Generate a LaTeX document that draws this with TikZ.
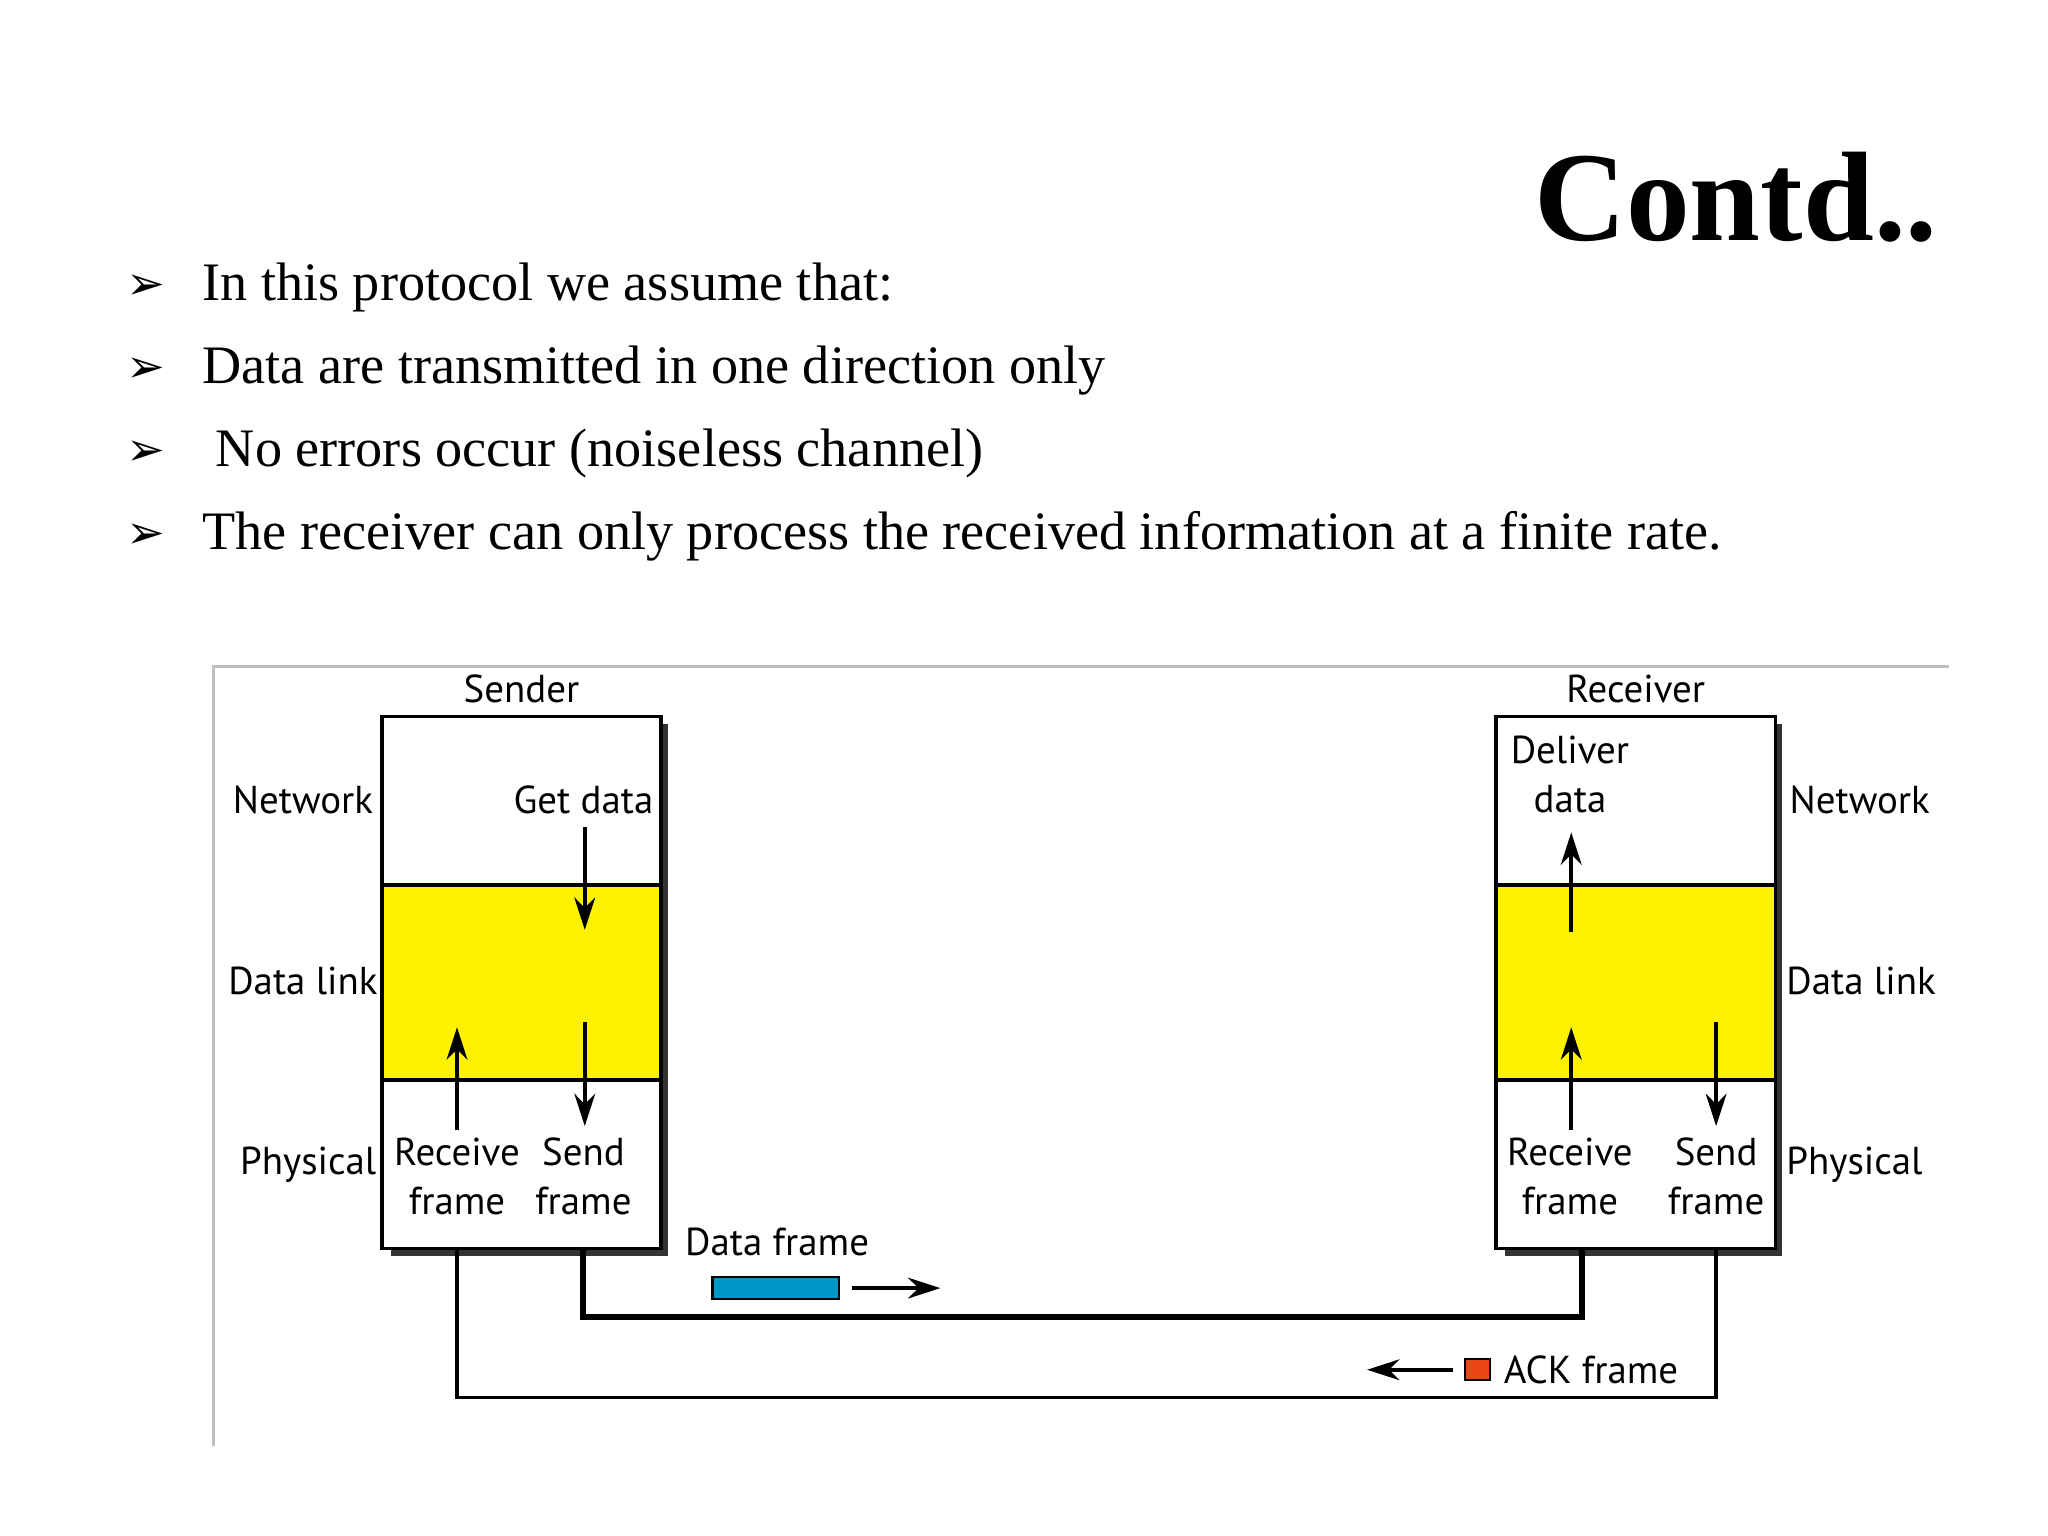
\documentclass[tikz,border=0pt]{standalone}
\usepackage{fontspec}
\setmainfont{Liberation Serif}
\newfontfamily\dfont{PT Sans}
\newfontfamily\symfont{DejaVu Sans}
\usetikzlibrary{arrows.meta,positioning}
\begin{document}
\begin{tikzpicture}[x=0.01cm,y=-0.01cm,
  lbl/.style={font=\dfont\fontsize{8.4}{10.5}\selectfont,inner sep=0pt,align=center},
  bul/.style={anchor=west,inner sep=0pt,font=\fontsize{11.7}{13}\selectfont},
  arr/.style={-{Stealth[length=7pt,width=4.5pt]},line width=0.8pt},
  layer/.style={draw=black,line width=0.8pt},
  shadow/.style={fill=black!80,draw=none}]
\useasboundingbox (0,0) rectangle (1555,1166);
\node[anchor=east,inner sep=0pt,font=\bfseries\fontsize{27.5}{30}\selectfont] (title) at (1472,150) {Contd..};
\foreach \y/\t/\n in {218/{In this protocol we assume that:}/b1,281/{Data are transmitted in one direction only}/b2,344/{\ No errors occur (noiseless channel)}/b3,407/{The receiver can only process the received information at a finite rate.}/b4}{
  \node[anchor=center,inner sep=0pt,font=\symfont\fontsize{10}{12}\selectfont] (m\n) at (111,\y) {➢};
  \node[bul] (\n) at (153,\y) {\t};
}
% frame
\draw[black!25,line width=0.8pt] (1480,506) -- (162,506) -- (162,1098);
% boxes
\foreach \x/\nm in {290/S,1136/R}{
  \fill[shadow] (\x+7,550) rectangle (\x+217,954);
  \fill[white] (\x,544) rectangle (\x+212,672);
  \fill[yellow] (\x,672) rectangle (\x+212,820);
  \fill[white] (\x,820) rectangle (\x+212,948);
  \draw[layer] (\x,544) rectangle (\x+212,948);
  \draw[layer] (\x,672) -- (\x+212,672) (\x,820) -- (\x+212,820);
  \coordinate (\nm top) at (\x+106,544);
}
\node[lbl] (sender) at (396,523) {Sender};
\node[lbl] (receiver) at (1242,523) {Receiver};
\node[lbl] (nl) at (230,607) {Network};
\node[lbl] (dl) at (230,745) {Data link};
\node[lbl] (pl) at (234,884) {Physical};
\node[lbl] (nr) at (1412,607) {Network};
\node[lbl] (dr) at (1413,745) {Data link};
\node[lbl] (pr) at (1408,884) {Physical};
\node[lbl] (get) at (443,607) {Get data};
\node[lbl] (srf) at (347,893) {Receive\\frame};
\node[lbl] (ssf) at (443,893) {Send\\frame};
\node[lbl] (del) at (1192,588) {Deliver\\data};
\node[lbl] (rrf) at (1192,893) {Receive\\frame};
\node[lbl] (rsf) at (1303,893) {Send\\frame};
\coordinate (a1s) at (444,628); \coordinate (a1e) at (444,706);
\coordinate (a2s) at (444,776); \coordinate (a2e) at (444,855);
\coordinate (a3s) at (347,858); \coordinate (a3e) at (347,780);
\coordinate (a4s) at (1193,708); \coordinate (a4e) at (1193,632);
\coordinate (a5s) at (1193,858); \coordinate (a5e) at (1193,780);
\coordinate (a6s) at (1303,776); \coordinate (a6e) at (1303,855);
\foreach \i in {1,...,6} \draw[arr] (a\i s) -- (a\i e);
% links
\coordinate (sd) at (443,948); \coordinate (rd) at (1201,948);
\draw[line width=1.3pt] (sd) -- (443,1000) -- (1201,1000) -- (rd);
\coordinate (sa) at (347,948); \coordinate (ra) at (1303,948);
\draw[line width=0.8pt] (sa) -- (347,1061) -- (1303,1061) -- (ra);
\node[lbl] (df) at (590,943) {Data frame};
\node[draw=black,line width=0.5pt,fill={rgb,255:red,0;green,150;blue,200},minimum width=96*0.01cm,minimum height=17*0.01cm,inner sep=0pt] (dfr) at (589,978) {};
\coordinate (dfa1) at (647,978); \coordinate (dfa2) at (714,978);
\draw[arr] (dfa1) -- (dfa2);
\node[draw=black,line width=0.5pt,fill={rgb,255:red,235;green,70;blue,20},minimum width=19*0.01cm,minimum height=16*0.01cm,inner sep=0pt] (ack) at (1122,1040) {};
\coordinate (ak1) at (1103,1040); \coordinate (ak2) at (1038,1040);
\draw[arr] (ak1) -- (ak2);
\node[lbl] (ackl) at (1208,1040) {ACK frame};
\end{tikzpicture}
\end{document}
